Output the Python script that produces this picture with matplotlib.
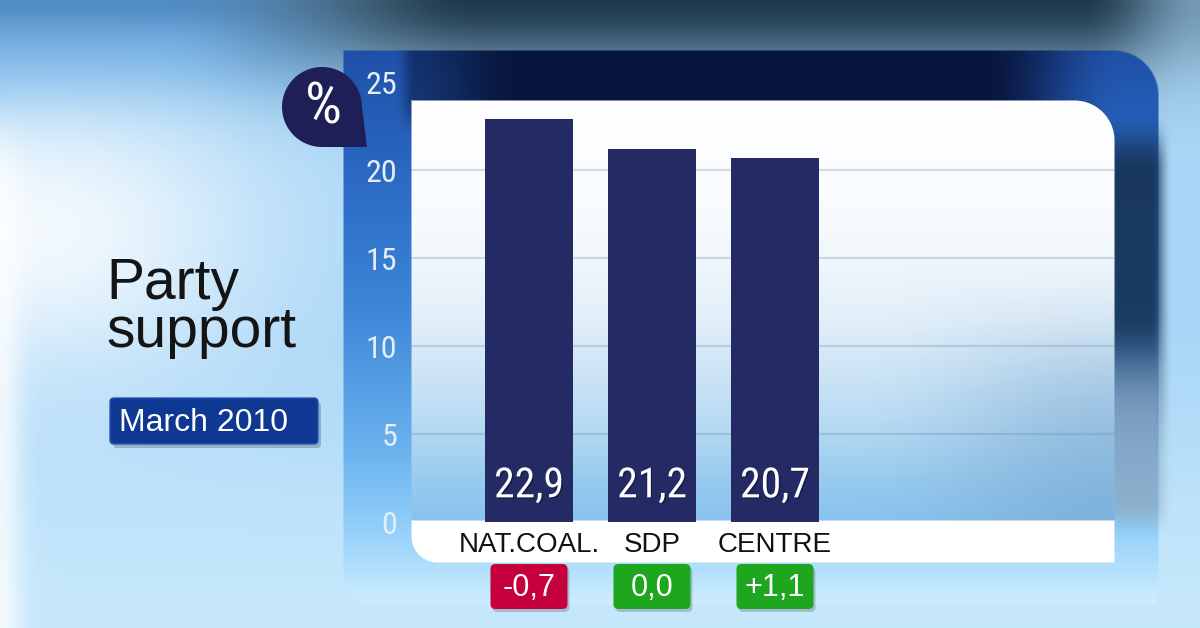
import numpy as np
import matplotlib
matplotlib.use('Agg')
import matplotlib.pyplot as plt
import matplotlib.colors as mcolors
from matplotlib import font_manager
from matplotlib.patches import FancyBboxPatch, Circle, Polygon
import matplotlib.patheffects as pe

# ---------------- data ----------------
categories = ['NAT.COAL.', 'SDP', 'CENTRE']
support = [22.9, 21.2, 20.7]
change = [-0.7, 0.0, 1.1]
yticks = [0, 5, 10, 15, 20, 25]
title_lines = ['Party', 'support']
period = 'March 2010'
unit = '%'

REG = ['Liberation Sans', 'DejaVu Sans']


def is_normal(w):
    return w in (400, 'normal', 'regular', 'book', 'Regular', 'Normal', 'Book')


faces = font_manager.fontManager.ttflist
normal_names = {f.name for f in faces if is_normal(f.weight) and f.style == 'normal'}
prefs = ['Liberation Sans Narrow', 'Arial Narrow', 'Nimbus Sans Narrow', 'Roboto Condensed',
         'Noto Sans Condensed', 'Open Sans Condensed']
chosen = [p for p in prefs if p in normal_names]
if not chosen:
    chosen = sorted(n for n in normal_names if ('Narrow' in n or 'Condensed' in n))
if chosen:
    NAR = [chosen[0]] + REG
    nscale = 1.0
else:
    NAR = REG
    nscale = 0.88

W, H = 1200, 628
fig = plt.figure(figsize=(12, 6.28), dpi=100)

# ---------------- background image ----------------
yy, xx = np.mgrid[0:H, 0:W].astype(float)


def rgb(h):
    return np.array(mcolors.to_rgb(h))


def grad(coord, stops):
    pos = [s[0] for s in stops]
    cols = np.array([rgb(s[1]) for s in stops])
    out = np.empty(coord.shape + (3,))
    for c in range(3):
        out[..., c] = np.interp(coord, pos, cols[:, c])
    return out


def sstep(e0, e1, x):
    t = np.clip((x - e0) / (e1 - e0), 0, 1)
    return t * t * (3 - 2 * t)


def blend(img, color, w):
    w = np.clip(w, 0, 1)[..., None]
    if np.ndim(color) == 1:
        color = np.asarray(color)[None, None, :]
    img[:] = img * (1 - w) + color * w


def rrect(x0, y0, x1, y1, tl=0, tr=0, br=0, bl=0, soft=1.5):
    m = np.minimum.reduce([xx - x0, x1 - xx, yy - y0, y1 - yy])
    m = np.clip(m / soft + 0.5, 0, 1)
    for (cx, cy, r, reg) in [
        (x0 + tl, y0 + tl, tl, (xx < x0 + tl) & (yy < y0 + tl)),
        (x1 - tr, y0 + tr, tr, (xx > x1 - tr) & (yy < y0 + tr)),
        (x1 - br, y1 - br, br, (xx > x1 - br) & (yy > y1 - br)),
        (x0 + bl, y1 - bl, bl, (xx < x0 + bl) & (yy > y1 - bl)),
    ]:
        if r > 0:
            d = np.hypot(xx - cx, yy - cy)
            v = np.clip((r - d) / soft + 0.5, 0, 1)
            m = np.where(reg, np.minimum(m, v), m)
    return m


img = np.ones((H, W, 3)) * rgb('#aad7f7')
blend(img, rgb('#d2eefd'), sstep(300, 628, yy) * 0.7)
blend(img, rgb('#ffffff'), 0.85 * np.exp(-((xx - 40) / 220) ** 2 - ((yy - 230) / 150) ** 2))
blend(img, rgb('#ffffff'), 0.75 * np.exp(-(xx / 22) ** 2) * sstep(90, 200, yy))
blend(img, rgb('#6aaae2'), 0.7 * np.exp(-((yy - 40) / 60) ** 2) * (1 - sstep(250, 450, xx)))
blend(img, rgb('#4a86c0'), 0.9 * np.exp(-(yy / 35) ** 2) * (1 - sstep(150, 450, xx)))
blend(img, rgb('#1a3446'),
      0.97 * np.exp(-((yy + 5) / 80) ** 2) * sstep(150, 480, xx) * (1 - 0.6 * sstep(1080, 1200, xx)))

# frame
F = rrect(343, 50, 1158, 604, tl=0, tr=45, br=8, bl=30, soft=2.0)
fcol = grad(yy, [(50, '#1f50a6'), (150, '#2864bf'), (300, '#3b84d6'),
                 (450, '#6ab2ee'), (530, '#94d0fa'), (604, '#cfeefe')])
blend(fcol, rgb('#08143a'),
      (0.55 + 0.45 * sstep(410, 520, xx)) * sstep(395, 415, xx) * (1 - sstep(980, 1120, xx))
      * (1 - sstep(95, 140, yy)) * 0.97)
blend(img, fcol, F)
# shadow right of panel
band = sstep(1100, 1118, xx) * (1 - sstep(1150, 1172, xx))
blend(img, rgb('#173252'), band * sstep(110, 170, yy) * (1 - sstep(300, 470, yy)) * 0.9)
blend(img, rgb('#8fa6ba'), band * sstep(320, 420, yy) * (1 - sstep(500, 540, yy)) * 0.7)

# panel
P = rrect(411, 100, 1114, 522, tr=40, soft=1.0)
pcol = grad(yy, [(100, '#ffffff'), (220, '#f8fbfe'), (320, '#e2eff9'),
                 (420, '#b9dbf3'), (480, '#98caee'), (522, '#88c2ee')])
blend(pcol, rgb('#6f9fc8'), sstep(850, 1114, xx) * sstep(250, 450, yy) * 0.45)
blend(img, pcol, P)
S = rrect(411, 520, 1114, 562, bl=26, soft=1.0)
blend(img, rgb('#ffffff'), S)

bg = fig.add_axes([0, 0, 1, 1])
bg.imshow(img, extent=(0, W, H, 0), aspect='auto', interpolation='bilinear', zorder=0)
bg.set_xlim(0, W)
bg.set_ylim(H, 0)
bg.axis('off')

# ---------------- chart axes ----------------
ax_l, ax_r, ax_b, ax_t = 411, 1114, 522, 82
ax = fig.add_axes([ax_l / W, (H - ax_b) / H, (ax_r - ax_l) / W, (ax_b - ax_t) / H])
ax.patch.set_alpha(0)
x = np.arange(len(categories))
ax.bar(x, support, width=0.715, color='#232a64', zorder=3)
ax.set_xlim(-0.959, 4.756)
ax.set_ylim(0, 25)
ax.set_yticks(yticks)
ax.set_yticklabels([str(t) for t in yticks], fontfamily=NAR, fontweight='normal',
                   fontsize=23 * nscale ** 0.5, color='#e4edf8')
ax.set_xticks(x)
ax.set_xticklabels(categories, fontfamily=REG, fontsize=20, color='#111111')
ax.tick_params(axis='both', length=0)
ax.tick_params(axis='y', pad=10)
ax.tick_params(axis='x', pad=7)
for s in ax.spines.values():
    s.set_visible(False)
ax.grid(axis='y', color='#5a7fa8', alpha=0.25, linewidth=1.6, zorder=1)
gl = ax.get_ygridlines()
gl[0].set_visible(False)
gl[-1].set_visible(False)

for xi, v in zip(x, support):
    ax.text(xi, 1.4, f'{v:.1f}'.replace('.', ','), ha='center', va='baseline',
            fontfamily=NAR, fontweight='normal', fontsize=30 * nscale, color='white', zorder=4,
            path_effects=[pe.withSimplePatchShadow(offset=(1, -1), shadow_rgbFace='#10153a', alpha=0.6)])

# change boxes under each category (positions from the axes' data transform)
fig.canvas.draw()
for xi, c in zip(x, change):
    px = ax.transData.transform((xi, 0))[0]
    col = '#c6003c' if c < 0 else '#1ea61e'
    lab = '0,0' if c == 0 else f'{c:+.1f}'.replace('.', ',')
    bw, bh, top = 77, 45, 564
    bg.add_patch(FancyBboxPatch((px - bw / 2 + 2, top + 3), bw, bh,
                                boxstyle='round,pad=0,rounding_size=5',
                                fc='#000000', ec='none', alpha=0.18, zorder=2))
    bg.add_patch(FancyBboxPatch((px - bw / 2, top), bw, bh,
                                boxstyle='round,pad=0,rounding_size=5',
                                fc=col, ec='none', zorder=3))
    bg.text(px, top + bh / 2 + 1, lab, ha='center', va='center', fontfamily=REG,
            fontsize=22, color='white', zorder=4)

# % bubble
bg.add_patch(Circle((322, 107), 40, fc='#1f1f58', ec='none', zorder=3))
bg.add_patch(Polygon([(322, 107), (362, 107), (367, 147), (322, 147)], closed=True,
                     fc='#1f1f58', ec='none', zorder=3))
bg.text(324, 108, unit, ha='center', va='center', fontfamily=NAR, fontweight='normal',
        fontsize=42 * nscale ** 0.5, color='white', zorder=4)

# title block (one multi-line text; baseline refers to the last line)
bg.text(106, 347, '\n'.join(title_lines), ha='left', va='baseline', fontfamily=REG,
        fontsize=41, color='#141414', linespacing=0.86, zorder=4)
bg.add_patch(FancyBboxPatch((113, 402), 208, 46, boxstyle='round,pad=0,rounding_size=4',
                            fc='#000000', ec='none', alpha=0.2, zorder=2))
bg.add_patch(FancyBboxPatch((110, 398), 208, 46, boxstyle='round,pad=0,rounding_size=4',
                            fc='#0e3892', ec='#2a56b0', lw=1, zorder=3))
bg.text(119, 431, period, ha='left', va='baseline', fontfamily=REG, fontsize=23,
        color='white', zorder=4)

fig.savefig('out.png', dpi=100)
